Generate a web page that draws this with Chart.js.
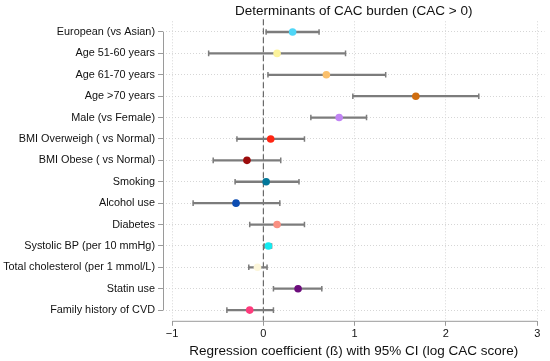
<!DOCTYPE html>
<html>
<head>
<meta charset="utf-8">
<script src="https://cdn.jsdelivr.net/npm/chart.js@4"></script>
<style>
  html, body { margin: 0; padding: 0; background: #ffffff; }
  #wrap { width: 550px; height: 361px; }
</style>
</head>
<body>
<div id="wrap"><canvas id="c" width="550" height="361"></canvas></div>
<script>
const categories = [
  'European (vs Asian)',
  'Age 51-60 years',
  'Age 61-70 years',
  'Age >70 years',
  'Male (vs Female)',
  'BMI Overweigh ( vs Normal)',
  'BMI Obese ( vs Normal)',
  'Smoking',
  'Alcohol use',
  'Diabetes',
  'Systolic BP (per 10 mmHg)',
  'Total cholesterol (per 1 mmol/L)',
  'Statin use',
  'Family history of CVD'
];
const estimates = [0.32, 0.15, 0.69, 1.67, 0.83, 0.08, -0.18, 0.03, -0.30, 0.15, 0.055, -0.065, 0.38, -0.15];
const ciLow     = [0.03, -0.60, 0.05, 0.98, 0.52, -0.29, -0.55, -0.31, -0.77, -0.15, 0.01, -0.16, 0.11, -0.40];
const ciHigh    = [0.61, 0.90, 1.34, 2.36, 1.13, 0.45, 0.19, 0.39, 0.18, 0.45, 0.09, 0.04, 0.64, 0.11];
const pointColors = [
  '#4fd6f7', '#fcf39c', '#fbc06c', '#cf6c0e', '#c184f4', '#ff2512', '#9c0b0b',
  '#02779a', '#0c4cb2', '#fa9082', '#14eaf0', '#fcf6da', '#6c0c7c', '#fe3b7c'
];
const xTicks = [-1, 0, 1, 2, 3];
const titleText = 'Determinants of CAC burden (CAC > 0)';
const xTitleText = 'Regression coefficient (\u00DF) with 95% CI (log CAC score)';

const FONT = "'Liberation Sans', Arial, Helvetica, sans-serif";
const AXIS_COLOR = '#9a9a9a';
const BAR_COLOR = '#7c7c7c';

const axisPlugin = {
  id: 'axisLines',
  beforeDatasetsDraw(chart) {
    const { ctx, chartArea, scales } = chart;
    const xs = scales.x, ys = scales.y;
    ctx.save();
    // zero reference line
    const x0 = xs.getPixelForValue(0);
    ctx.strokeStyle = '#6a6a6a';
    ctx.lineWidth = 1.2;
    ctx.setLineDash([6, 3]);
    ctx.beginPath();
    ctx.moveTo(x0, chartArea.top - 2);
    ctx.lineTo(x0, chartArea.bottom);
    ctx.stroke();
    ctx.setLineDash([]);
    // y axis line (first to last category)
    ctx.strokeStyle = AXIS_COLOR;
    ctx.lineWidth = 1;
    const yTop = ys.getPixelForValue(0);
    const yBot = ys.getPixelForValue(categories.length - 1);
    ctx.beginPath();
    ctx.moveTo(chartArea.left + 0.5, yTop);
    ctx.lineTo(chartArea.left + 0.5, yBot);
    ctx.stroke();
    // x axis line (first to last tick)
    const xl = xs.getPixelForValue(xTicks[0]);
    const xr = xs.getPixelForValue(xTicks[xTicks.length - 1]);
    ctx.beginPath();
    ctx.moveTo(xl, chartArea.bottom + 0.5);
    ctx.lineTo(xr, chartArea.bottom + 0.5);
    ctx.stroke();
    ctx.restore();
  }
};

new Chart(document.getElementById('c'), {
  type: 'bar',
  data: {
    labels: categories,
    datasets: [
      {
        type: 'line',
        indexAxis: 'y',
        data: estimates,
        showLine: false,
        pointRadius: 3.8,
        pointBorderWidth: 0,
        pointBackgroundColor: pointColors,
        pointBorderColor: pointColors,
        order: 0
      },
      {
        type: 'line',
        indexAxis: 'y',
        data: ciLow,
        showLine: false,
        pointStyle: 'line',
        pointRotation: 90,
        pointRadius: 2.8,
        pointBorderWidth: 1.5,
        pointBorderColor: BAR_COLOR,
        order: 1
      },
      {
        type: 'line',
        indexAxis: 'y',
        data: ciHigh,
        showLine: false,
        pointStyle: 'line',
        pointRotation: 90,
        pointRadius: 2.8,
        pointBorderWidth: 1.5,
        pointBorderColor: BAR_COLOR,
        order: 1
      },
      {
        type: 'bar',
        indexAxis: 'y',
        data: categories.map((c, i) => [ciLow[i], ciHigh[i]]),
        backgroundColor: BAR_COLOR,
        borderWidth: 0,
        barThickness: 1.6,
        order: 2
      }
    ]
  },
  plugins: [axisPlugin],
  options: {
    indexAxis: 'y',
    responsive: false,
    animation: false,
    devicePixelRatio: 1,
    layout: { padding: { left: 0, right: 4, top: 1, bottom: 2 } },
    plugins: {
      legend: { display: false },
      tooltip: { enabled: false },
      title: {
        display: true,
        text: titleText,
        fullSize: false,
        color: '#111',
        font: { family: FONT, size: 13.5, weight: 'normal' },
        padding: { top: 2.4, bottom: 1.7 }
      }
    },
    scales: {
      x: {
        type: 'linear',
        min: -1.1,
        max: 3.08,
        afterBuildTicks(scale) { scale.ticks = xTicks.map(v => ({ value: v })); },
        ticks: {
          color: '#111',
          font: { family: FONT, size: 11, lineHeight: 1 },
          padding: 3,
          maxRotation: 0,
          callback: v => (v < 0 ? '\u2212' + Math.abs(v) : String(v))
        },
        grid: {
          color: '#d6d6d6',
          lineWidth: 1,
          drawTicks: true,
          tickLength: 5,
          tickColor: AXIS_COLOR,
          tickBorderDash: []
        },
        border: { display: false, dash: [1, 2] },
        title: {
          display: true,
          text: xTitleText,
          color: '#111',
          font: { family: FONT, size: 13.5 },
          padding: { top: 0, bottom: 0 }
        }
      },
      y: {
        type: 'category',
        offset: true,
        afterFit(scale) { scale.width = 163; },
        ticks: {
          color: '#111',
          font: { family: FONT, size: 10.85 },
          padding: 3,
          autoSkip: false
        },
        grid: {
          offset: false,
          color: '#d6d6d6',
          lineWidth: 1,
          drawTicks: true,
          tickLength: 5,
          tickColor: AXIS_COLOR,
          tickBorderDash: []
        },
        border: { display: false, dash: [1, 2] }
      }
    }
  }
});
</script>
</body>
</html>
